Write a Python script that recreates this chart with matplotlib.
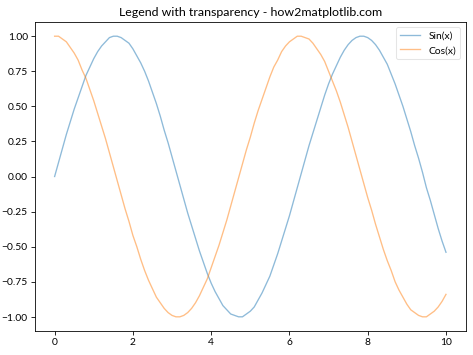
import matplotlib
matplotlib.use("Agg")
import matplotlib.pyplot as plt

plt.rcParams['font.family'] = ['Lato', 'DejaVu Sans']

x_vals = [0.0, 0.1, 0.2, 0.3, 0.4, 0.5, 0.6, 0.7, 0.8, 0.9,
          1.0, 1.1, 1.2, 1.3, 1.4, 1.5, 1.6, 1.7, 1.8, 1.9,
          2.0, 2.1, 2.2, 2.3, 2.4, 2.5, 2.6, 2.7, 2.8, 2.9,
          3.0, 3.1, 3.2, 3.3, 3.4, 3.5, 3.6, 3.7, 3.8, 3.9,
          4.0, 4.1, 4.2, 4.3, 4.4, 4.5, 4.6, 4.7, 4.8, 4.9,
          5.0, 5.1, 5.2, 5.3, 5.4, 5.5, 5.6, 5.7, 5.8, 5.9,
          6.0, 6.1, 6.2, 6.3, 6.4, 6.5, 6.6, 6.7, 6.8, 6.9,
          7.0, 7.1, 7.2, 7.3, 7.4, 7.5, 7.6, 7.7, 7.8, 7.9,
          8.0, 8.1, 8.2, 8.3, 8.4, 8.5, 8.6, 8.7, 8.8, 8.9,
          9.0, 9.1, 9.2, 9.3, 9.4, 9.5, 9.6, 9.7, 9.8, 9.9,
          10.0]
sin_vals = [0.00, 0.10, 0.20, 0.30, 0.39, 0.48, 0.56, 0.64, 0.72, 0.78,
            0.84, 0.89, 0.93, 0.96, 0.99, 1.00, 1.00, 0.99, 0.97, 0.95,
            0.91, 0.86, 0.81, 0.75, 0.68, 0.60, 0.52, 0.43, 0.33, 0.24,
            0.14, 0.04, -0.06, -0.16, -0.26, -0.35, -0.44, -0.53, -0.61, -0.69,
            -0.76, -0.82, -0.87, -0.92, -0.95, -0.98, -0.99, -1.00, -1.00, -0.98,
            -0.96, -0.93, -0.88, -0.83, -0.77, -0.71, -0.63, -0.55, -0.46, -0.37,
            -0.28, -0.18, -0.08, 0.02, 0.12, 0.22, 0.31, 0.40, 0.49, 0.58,
            0.66, 0.73, 0.79, 0.85, 0.90, 0.94, 0.97, 0.99, 1.00, 1.00,
            0.99, 0.97, 0.94, 0.90, 0.85, 0.80, 0.73, 0.66, 0.58, 0.50,
            0.41, 0.32, 0.22, 0.13, 0.03, -0.08, -0.17, -0.27, -0.37, -0.46,
            -0.54]
cos_vals = [1.00, 1.00, 0.98, 0.96, 0.92, 0.88, 0.83, 0.76, 0.70, 0.62,
            0.54, 0.45, 0.36, 0.27, 0.17, 0.07, -0.03, -0.13, -0.23, -0.32,
            -0.42, -0.50, -0.59, -0.67, -0.74, -0.80, -0.86, -0.90, -0.94, -0.97,
            -0.99, -1.00, -1.00, -0.99, -0.97, -0.94, -0.90, -0.85, -0.79, -0.73,
            -0.65, -0.57, -0.49, -0.40, -0.31, -0.21, -0.11, -0.01, 0.09, 0.19,
            0.28, 0.38, 0.47, 0.55, 0.63, 0.71, 0.78, 0.83, 0.89, 0.93,
            0.96, 0.98, 1.00, 1.00, 0.99, 0.98, 0.95, 0.91, 0.87, 0.82,
            0.75, 0.68, 0.61, 0.53, 0.44, 0.35, 0.25, 0.15, 0.05, -0.05,
            -0.15, -0.24, -0.34, -0.43, -0.52, -0.60, -0.67, -0.75, -0.81, -0.86,
            -0.91, -0.95, -0.97, -0.99, -1.00, -1.00, -0.98, -0.96, -0.93, -0.89,
            -0.84]
labels = ["Sin(x)", "Cos(x)"]
title = "Legend with transparency - how2matplotlib.com"

fig, ax = plt.subplots(figsize=(6.4, 4.8), dpi=74)
ax.plot(x_vals, sin_vals, label=labels[0], alpha=0.5, linewidth=1.3)
ax.plot(x_vals, cos_vals, label=labels[1], alpha=0.5, linewidth=1.3)
ax.set_title(title)
ax.legend(loc="upper right", framealpha=0.5)
fig.subplots_adjust(left=0.074, right=0.983, top=0.937, bottom=0.068)
fig.savefig("out.png", dpi=74)
